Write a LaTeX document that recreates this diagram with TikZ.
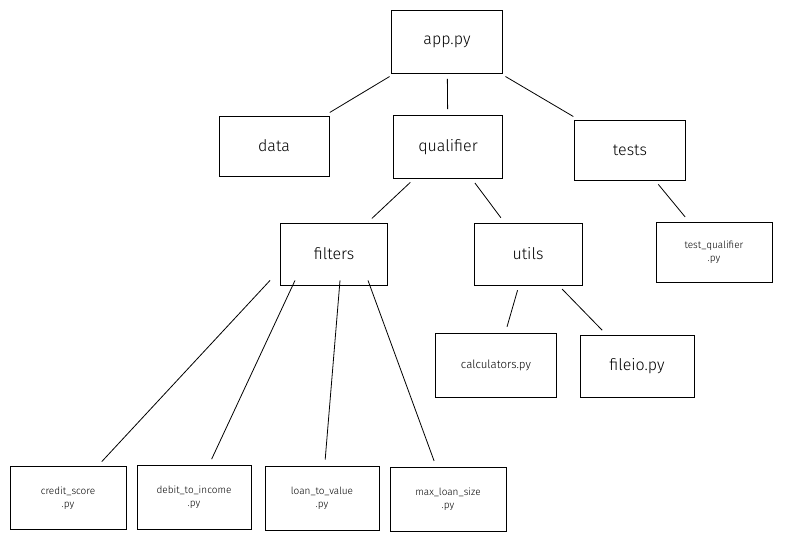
\documentclass[tikz,border=0pt]{standalone}
\usepackage{fontspec}
\setmainfont{Fira Sans Light}
\begin{document}
\begin{tikzpicture}[x=1pt,y=-1pt,
  box/.style={draw,line width=0.9pt,inner sep=0pt,align=center},
  big/.style={box,font=\fontsize{16}{18}\selectfont},
  small/.style={box,font=\fontsize{10}{13}\selectfont},
  link/.style={line width=0.8pt,shorten <=5pt,shorten >=6pt}]
\useasboundingbox (0,0) rectangle (785,541);
\node[big,minimum width=111pt,minimum height=63pt] (app) at (447,42) {app.py};
\node[big,minimum width=110pt,minimum height=60pt] (data) at (274,146) {data};
\node[big,minimum width=109pt,minimum height=63pt] (qual) at (448,147) {qualifier};
\node[big,minimum width=111pt,minimum height=60pt] (tests) at (630,150) {tests};
\node[big,minimum width=107pt,minimum height=62pt] (filters) at (334,254) {filters};
\node[big,minimum width=108pt,minimum height=62pt] (utils) at (528,254) {utils};
\node[small,minimum width=116pt,minimum height=60pt] (tq) at (714,252) {test\_qualifier\\.py};
\node[small,font=\fontsize{11.5}{13}\selectfont,minimum width=121pt,minimum height=64pt] (calc) at (496,365) {calculators.py};
\node[big,minimum width=114pt,minimum height=62pt] (fio) at (637,366) {fileio.py};
\node[small,minimum width=116pt,minimum height=63pt] (cs) at (68,498) {credit\_score\\.py};
\node[small,minimum width=114pt,minimum height=64pt] (dti) at (194,497) {debit\_to\_income\\.py};
\node[small,minimum width=114pt,minimum height=64pt] (ltv) at (322,498) {loan\_to\_value\\.py};
\node[small,minimum width=116pt,minimum height=64pt] (mls) at (448,499) {max\_loan\_size\\.py};
\coordinate (f1) at ([xshift=-64pt,yshift=5pt]filters.south);
\coordinate (f2) at ([xshift=-39pt,yshift=5pt]filters.south);
\coordinate (f3) at ([xshift=6pt,yshift=5pt]filters.south);
\coordinate (f4) at ([xshift=34pt,yshift=5pt]filters.south);
\draw[link] (app) -- (data);
\draw[link] (app) -- (qual);
\draw[link] (app) -- (tests);
\draw[link] (qual) -- (filters);
\draw[link] (qual) -- (utils);
\draw[link] (tests) -- (tq);
\draw[link] (utils) -- (calc);
\draw[link] (utils) -- (fio);
\draw[link,shorten <=0pt] (f1) -- (cs);
\draw[link,shorten <=0pt] (f2) -- (dti);
\draw[link,shorten <=0pt] (f3) -- (ltv);
\draw[link,shorten <=0pt] (f4) -- (mls);
\end{tikzpicture}
\end{document}
